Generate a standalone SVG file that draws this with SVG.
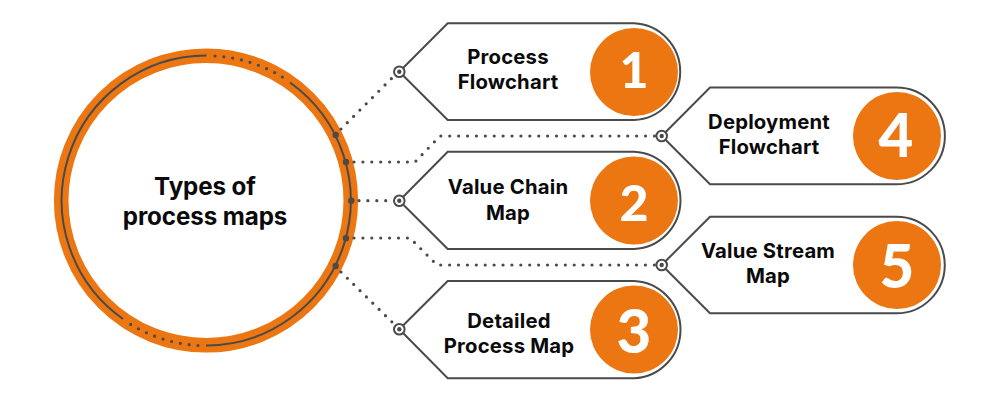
<svg xmlns="http://www.w3.org/2000/svg" width="1000" height="400" viewBox="0 0 1000 400">
<style>
text{font-family:"Inter","Lato","Liberation Sans",sans-serif;font-weight:700;text-anchor:middle;fill:#0a0a0a}
.lbl{font-size:20.3px;letter-spacing:.2px}
.num{font-family:"Lato","Liberation Sans",sans-serif;font-size:50px;fill:#fff;font-weight:900}
.big{font-size:60px}
.tt{font-size:24.2px;letter-spacing:-.1px}
.outline{fill:#fff;stroke:#4a4a4a;stroke-width:2}
.badge{fill:#eb7612}
.dot{fill:none;stroke:#4a4a4a;stroke-width:3.2;stroke-linecap:round;stroke-dasharray:0 8.9}
.ringline{fill:none;stroke:#4a4a4a;stroke-width:2}
.pin{fill:#4a4a4a}
.t1{fill:#fff;stroke:#4a4a4a;stroke-width:2}
</style>
<rect width="1000" height="400" fill="#fff"/>
<g id="hub">
<circle cx="206" cy="200.5" r="144.8" fill="#fff" stroke="#eb7612" stroke-width="14.6"/>
<path class="ringline" d="M206.5 55.6A145 145 0 0 0 123 319"/>
<path class="ringline" d="M290 82.5A145 145 0 0 1 206 345.5"/>
<path class="dot" d="M215 56A145 145 0 0 1 284 78"/>
<path class="dot" d="M198 345.5A145 145 0 0 1 130 324"/>
<circle class="pin" cx="335.7" cy="135" r="3.2"/>
<circle class="pin" cx="346" cy="162" r="3.2"/>
<circle class="pin" cx="351.3" cy="200.7" r="3.2"/>
<circle class="pin" cx="346" cy="238.3" r="3.2"/>
<circle class="pin" cx="335.7" cy="266" r="3.2"/>
<text class="tt" x="205" y="195">Types of</text>
<text class="tt" x="205" y="225">process maps</text>
</g>
<g id="connectors">
<path class="dot" d="M341 129L394 76"/>
<path class="dot" d="M354 162H415L440 136H656"/>
<path class="dot" d="M359 200.7H394"/>
<path class="dot" d="M354 238H410L437 265H656"/>
<path class="dot" d="M341 272L394 324"/>
</g>
<g id="node1">
<path class="outline" d="M399.3 71.7L447.7 23.3H634A48.4 48.4 0 0 1 634 120H447.7Z"/>
<circle class="t1" cx="399.3" cy="71.7" r="5.3"/><circle class="pin" cx="399.3" cy="71.7" r="2.2"/>
<circle class="badge" cx="634" cy="72" r="44"/>
<text class="num" x="634" y="87.5">1</text>
<text class="lbl" x="508" y="64">Process</text>
<text class="lbl" x="508" y="89.3">Flowchart</text>
</g>
<g id="node2">
<path class="outline" d="M399.3 200.7L447.7 151.7H634A48.7 48.7 0 0 1 634 249H447.7Z"/>
<circle class="t1" cx="399.3" cy="200.7" r="5.3"/><circle class="pin" cx="399.3" cy="200.7" r="2.2"/>
<circle class="badge" cx="634" cy="200.5" r="44"/>
<text class="num" x="634" y="220.7">2</text>
<text class="lbl" x="508" y="194">Value Chain</text>
<text class="lbl" x="508" y="220">Map</text>
</g>
<g id="node3">
<path class="outline" d="M399.3 329.3L447.7 281H634A48.7 48.7 0 0 1 634 378.3H447.7Z"/>
<circle class="t1" cx="399.3" cy="329.3" r="5.3"/><circle class="pin" cx="399.3" cy="329.3" r="2.2"/>
<circle class="badge" cx="634" cy="329.5" r="44"/>
<text class="num big" x="634" y="353">3</text>
<text class="lbl" x="509" y="328">Detailed</text>
<text class="lbl" x="509" y="353.3">Process Map</text>
</g>
<g id="node4">
<path class="outline" d="M661.7 136L710 87.5H896.5A48.4 48.4 0 0 1 896.5 184.3H710Z"/>
<circle class="t1" cx="661.7" cy="136" r="5.3"/><circle class="pin" cx="661.7" cy="136" r="2.2"/>
<circle class="badge" cx="897" cy="136" r="44"/>
<text class="num big" x="896" y="157">4</text>
<text class="lbl" x="769" y="129">Deployment</text>
<text class="lbl" x="769" y="154">Flowchart</text>
</g>
<g id="node5">
<path class="outline" d="M661.7 265L710 216.7H896.5A48.3 48.3 0 0 1 896.5 313.3H710Z"/>
<circle class="t1" cx="661.7" cy="265" r="5.3"/><circle class="pin" cx="661.7" cy="265" r="2.2"/>
<circle class="badge" cx="897" cy="265" r="44"/>
<text class="num big" x="897" y="288">5</text>
<text class="lbl" x="768" y="258.3">Value Stream</text>
<text class="lbl" x="768" y="283.3">Map</text>
</g>
</svg>
